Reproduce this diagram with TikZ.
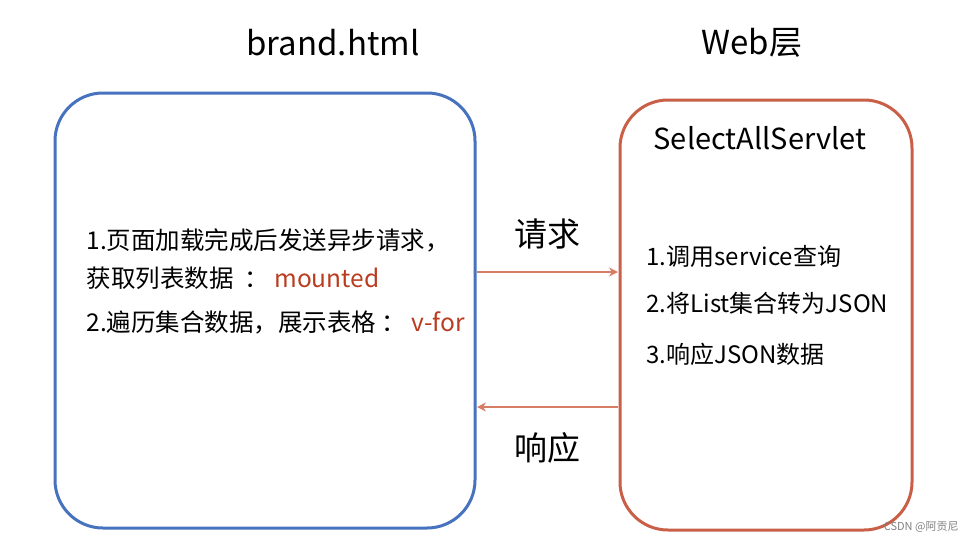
\documentclass[tikz,border=0pt]{standalone}
\usepackage{fontspec}
\setmainfont{Noto Sans CJK SC}
\usetikzlibrary{arrows.meta, positioning}
\definecolor{boxblue}{RGB}{70,114,190}
\definecolor{boxred}{RGB}{200,95,70}
\definecolor{arrred}{RGB}{215,125,100}
\definecolor{keyred}{RGB}{185,60,30}

\begin{document}
\begin{tikzpicture}[
	x=1pt, y=-1pt,
	line width=3pt,
	every node/.style={
		inner sep=0pt},
	title/.style={
		font=\fontsize{33}{38}\selectfont},
	item/.style={
		anchor=west,
		font=\fontsize{24.5}{28}\selectfont},
	key/.style={
		text=keyred},
	panel/.style={
		draw,
		rectangle,
		rounded corners=48pt},
	flow/.style={
		draw=arrred,
		line width=2.5pt,
		-{Stealth[length=9pt,width=9pt]}}
	]

	\useasboundingbox (0,0) rectangle (972,547);

	\node[panel, draw=boxblue, minimum width=420pt, minimum height=435pt] (brand) at (265,310.5){};
	\node[panel, draw=boxred, minimum width=292pt, minimum height=430pt] (web) at (766,315){};

	\node[title] (brandT) at (333,43) {brand.html};
	\node[title] (webT) at (752,43) {Web层};
	\node[title, font=\fontsize{29}{33}\selectfont] (servlet) at (760,138) {SelectAllServlet};

	\node[item] (l1) at (85,240) {1.页面加载完成后发送异步请求，};
	\node[item] (l2) at (85,278) {获取列表数据\ \ ：\ \textcolor{keyred}{mounted}};
	\node[item] (l3) at (85,322) {2.遍历集合数据，展示表格\ ：\ \textcolor{keyred}{v-for}};

	\node[item, font=\fontsize{24}{28}\selectfont] (r1) at (645,256) {1.调用service查询};
	\node[item, font=\fontsize{24}{28}\selectfont] (r2) at (645,303) {2.将List集合转为JSON};
	\node[item, font=\fontsize{24}{28}\selectfont] (r3) at (645,354) {3.响应JSON数据};

	\coordinate (reqL) at (477,272);
	\coordinate (reqR) at (618,272);
	\coordinate (resR) at (618,407);
	\coordinate (resL) at (477,407);

	\draw[flow] (reqL) -- node[above=22pt, title]{请求} (reqR);
	\draw[flow] (resR) -- node[below=24pt, title]{响应} (resL);

	\node[anchor=east, text=gray, font=\fontsize{11}{13}\selectfont] (mark) at (960,527) {CSDN @阿贡尼};

\end{tikzpicture}
\end{document}
